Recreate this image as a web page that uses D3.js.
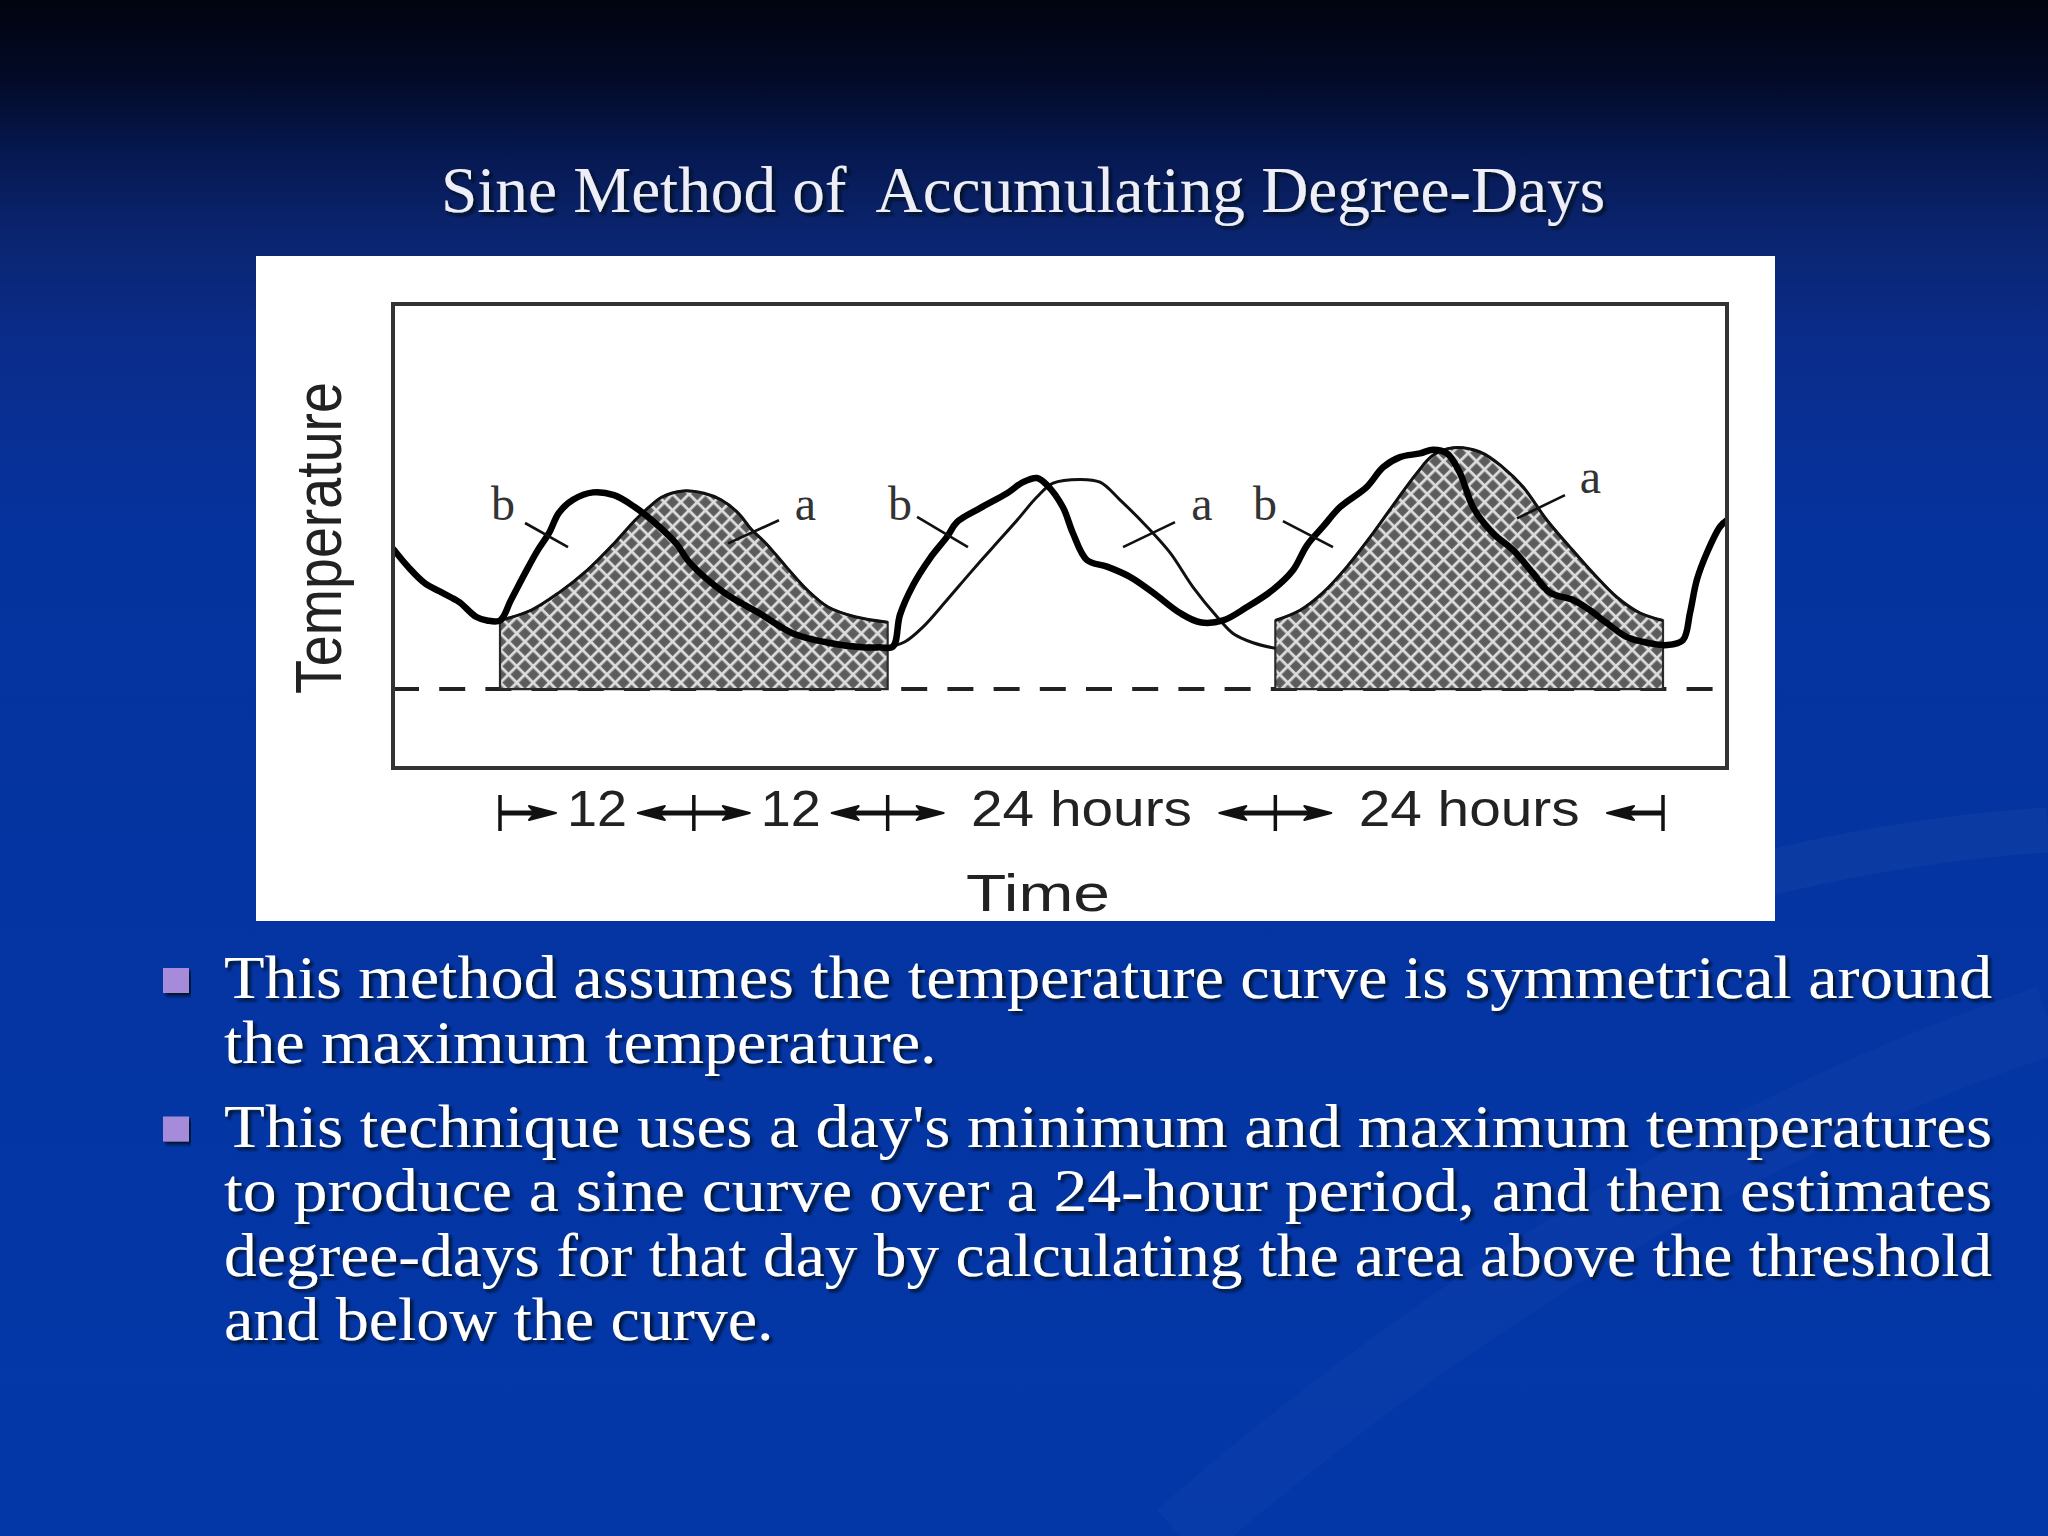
<!DOCTYPE html>
<html>
<head>
<meta charset="utf-8">
<script src="https://cdn.jsdelivr.net/npm/d3@7"></script>
<style>
  html, body { margin: 0; padding: 0; background: #0435a4; }
  svg { display: block; }
</style>
</head>
<body>
<svg id="chart" width="2048" height="1536"></svg>
<script>
// ---------------- DATA ----------------
const titleText = "Sine Method of  Accumulating Degree-Days";
const yAxisLabel = "Temperature";
const xAxisLabel = "Time";
const threshold = 50;                 // dashed developmental threshold (°F, arbitrary units)
const dayBounds = [0, 24, 48, 72];    // hours
const shadedDays = [0, 2];            // days whose area above threshold is hatched
const spanTicks = [0, 12, 24, 48, 72];
const spanLabels = ["12", "12", "24 hours", "24 hours"];

// actual (thick) temperature trace: [hour, temperature]
const actualTemps = [[-6.56,65.0],[-5.70,63.2],[-4.64,61.4],[-3.59,60.4],[-2.54,59.4],[-1.49,57.8],[-0.80,57.4],[0,57.4],[0.68,59.6],[1.55,62.5],[2.35,65.0],[3.03,66.8],[3.65,69.0],[4.52,70.4],[5.76,71.2],[7.06,70.9],[8.36,69.6],[9.60,67.9],[10.90,65.7],[11.76,63.6],[13.87,60.4],[16.03,58.2],[18.14,56.0],[20.31,55.0],[22.41,54.5],[23.46,54.5],[24.33,54.6],[24.76,58.0],[25.57,61.2],[26.62,64.1],[27.67,66.4],[28.29,68.0],[29.72,69.5],[31.39,71.1],[32.38,72.3],[33.24,72.75],[33.86,72.0],[34.85,69.6],[35.47,66.8],[36.34,63.9],[37.58,63.2],[39.00,62.1],[40.43,60.4],[42.10,58.2],[43.34,57.2],[44.76,57.4],[46.25,58.85],[47.85,60.7],[49.09,62.8],[49.96,65.5],[50.95,67.5],[52.00,69.6],[53.67,71.8],[54.67,73.9],[55.72,75.0],[56.96,75.4],[57.76,75.8],[58.63,75.4],[59.43,73.3],[60.24,69.6],[61.47,66.8],[62.71,65.0],[63.95,62.5],[65.00,60.4],[66.43,59.6],[67.48,58.5],[68.53,57.1],[69.77,55.6],[71.01,55.0],[72.25,54.75],[73.24,55.3],[73.67,58.2],[74.10,61.8],[74.72,64.7],[75.53,67.5],[75.96,68.2]];

// sine-approximation (thin) curves, one per day: [hour, temperature]
const sineDay1 = [[0,57.4],[1.92,58.5],[3.65,60.4],[5.39,62.8],[7.06,65.7],[8.36,68.2],[9.22,69.6],[10.03,70.7],[11.33,71.35],[12.63,71.1],[13.68,70.4],[14.73,69.0],[15.60,67.15],[16.47,65.7],[17.71,63.2],[19.01,60.7],[20.31,58.85],[21.98,57.8],[24,57.2]];
const sineDay2 = [[24,54.5],[25.07,55.1],[26.19,56.7],[27.67,59.6],[29.10,62.5],[30.52,65.3],[32.01,68.2],[33.24,70.7],[34.24,72.2],[35.91,72.6],[37.15,72.3],[38.38,70.4],[40.05,67.5],[41.48,64.7],[42.90,61.0],[44.39,57.8],[45.38,56.0],[46.62,55.0],[48,54.4]];
const sineDay3 = [[48,57.4],[49.53,58.5],[50.95,60.4],[52.44,63.2],[54.05,66.8],[55.53,70.4],[56.77,73.3],[57.76,75.2],[59.00,76.0],[60.67,75.55],[62.09,73.9],[63.33,71.8],[64.82,68.2],[66.24,65.3],[67.67,62.5],[69.15,59.9],[70.58,58.2],[72,57.4]];
const sineDays = [sineDay1, sineDay2, sineDay3];

// curve labels (b = actual trace, a = sine approximation): [hour, temperature at baseline]
const curveLabels = ["b", "a", "b", "a", "b", "a"];
const labelAnchors = [[0.19,68.2],[18.9,68.2],[24.76,68.2],[43.46,68.2],[47.36,68.2],[67.5,71.1]];
const leaderFrom = [[1.55,67.9],[17.27,68.2],[25.82,68.55],[41.79,68.0],[48.47,68.1],[65.93,70.9]];
const leaderTo   = [[4.21,65.3],[14.12,65.7],[28.97,65.3],[38.57,65.3],[51.57,65.3],[62.96,68.4]];

const bulletParagraphs = [
  ["This method assumes the temperature curve is symmetrical around",
   "the maximum temperature."],
  ["This technique uses a day's minimum and maximum temperatures",
   "to produce a sine curve over a 24-hour period, and then estimates",
   "degree-days for that day by calculating the area above the threshold",
   "and below the curve."]
];

// ---------------- LAYOUT ----------------
const W = 2048, H = 1536;
const box = {x0: 256, y0: 256, x1: 1775, y1: 921};
const frame = {x0: 393, y0: 304, x1: 1727, y1: 768};

const svg = d3.select("#chart");
const defs = svg.append("defs");

// background gradient
const bg = defs.append("linearGradient").attr("id", "bg").attr("x1", 0).attr("y1", 0).attr("x2", 0).attr("y2", 1);
[[0, "#01030f"], [0.05, "#020a26"], [0.1, "#061850"], [0.15, "#0a246e"], [0.22, "#0a2c8a"],
 [0.35, "#05339e"], [1, "#0337a8"]].forEach(s => bg.append("stop").attr("offset", s[0]).attr("stop-color", s[1]));

const sh = defs.append("filter").attr("id", "shadow").attr("x", "-5%").attr("y", "-30%").attr("width", "110%").attr("height", "160%");
sh.append("feDropShadow").attr("dx", 3).attr("dy", 3).attr("stdDeviation", 1.5)
  .attr("flood-color", "#000717").attr("flood-opacity", 0.85);

// hatch pattern (diamond lattice)
const P = 11.6;
const pat = defs.append("pattern").attr("id", "hatch").attr("patternUnits", "userSpaceOnUse")
  .attr("width", P).attr("height", P).attr("patternTransform", "rotate(45)");
pat.append("rect").attr("width", P).attr("height", P).attr("fill", "#6a6a6a");
pat.append("rect").attr("x", 3.5).attr("y", 3.5).attr("width", P - 4.5).attr("height", P - 4.5).attr("fill", "#5c5c5c");
pat.append("rect").attr("width", P).attr("height", 2.6).attr("fill", "#dedede");
pat.append("rect").attr("width", 2.6).attr("height", P).attr("fill", "#dedede");

defs.append("clipPath").attr("id", "frameClip").append("rect")
  .attr("x", frame.x0).attr("y", frame.y0).attr("width", frame.x1 - frame.x0).attr("height", frame.y1 - frame.y0);

// background
svg.append("rect").attr("width", W).attr("height", H).attr("fill", "url(#bg)");
// faint decorative swooshes
svg.append("path").attr("d", "M1180,1536 C1450,1300 1750,1120 2048,1020")
  .attr("fill", "none").attr("stroke", "#ffffff").attr("stroke-opacity", 0.025).attr("stroke-width", 70);
svg.append("path").attr("d", "M1700,890 C1850,850 1960,835 2048,830")
  .attr("fill", "none").attr("stroke", "#ffffff").attr("stroke-opacity", 0.03).attr("stroke-width", 45);

// title
svg.append("text").text(titleText)
  .attr("x", 1023).attr("y", 212).attr("text-anchor", "middle")
  .attr("font-family", "'Liberation Serif', 'Times New Roman', serif").attr("font-size", 66)
  .attr("fill", "#eeeef8").style("white-space", "pre")
  .attr("textLength", 1164).attr("lengthAdjust", "spacingAndGlyphs")
  .attr("filter", "url(#shadow)");

// white chart panel
svg.append("rect").attr("x", box.x0).attr("y", box.y0).attr("width", box.x1 - box.x0).attr("height", box.y1 - box.y0)
  .attr("fill", "#ffffff");

// scales
const x = d3.scaleLinear().domain([dayBounds[0], dayBounds[dayBounds.length - 1]]).range([500, 1663]);
const y = d3.scaleLinear().domain([41.5, 91.5]).range([frame.y1, frame.y0]);

const curve = d3.curveCatmullRom.alpha(0.5);
const line = d3.line().x(d => x(d[0])).y(d => y(d[1])).curve(curve);
const area = d3.area().x(d => x(d[0])).y0(y(threshold)).y1(d => y(d[1])).curve(curve);

const plot = svg.append("g").attr("clip-path", "url(#frameClip)");

// threshold dashed line
plot.append("line").attr("x1", frame.x0).attr("x2", frame.x1).attr("y1", y(threshold)).attr("y2", y(threshold))
  .attr("stroke", "#222").attr("stroke-width", 4).attr("stroke-dasharray", "26 20.2");

// hatched degree-day areas
plot.selectAll("path.shade").data(shadedDays.map(i => sineDays[i])).join("path")
  .attr("class", "shade").attr("d", area)
  .attr("fill", "url(#hatch)").attr("stroke", "#2a2a2a").attr("stroke-width", 2.2);

// thin sine curves
plot.selectAll("path.sine").data(sineDays).join("path")
  .attr("class", "sine").attr("d", line)
  .attr("fill", "none").attr("stroke", "#111").attr("stroke-width", 3).attr("stroke-linejoin", "round");

// thick actual trace
plot.append("path").datum(actualTemps).attr("d", line)
  .attr("fill", "none").attr("stroke", "#000").attr("stroke-width", 6.5)
  .attr("stroke-linejoin", "round").attr("stroke-linecap", "round");

// leader lines and labels
plot.selectAll("line.leader").data(leaderFrom).join("line").attr("class", "leader")
  .attr("x1", d => x(d[0])).attr("y1", d => y(d[1]))
  .attr("x2", (d, i) => x(leaderTo[i][0])).attr("y2", (d, i) => y(leaderTo[i][1]))
  .attr("stroke", "#111").attr("stroke-width", 2.6);

plot.selectAll("text.clabel").data(labelAnchors).join("text").attr("class", "clabel")
  .attr("x", d => x(d[0])).attr("y", d => y(d[1])).attr("text-anchor", "middle")
  .attr("font-family", "'Liberation Serif', 'DejaVu Serif', serif").attr("font-size", 48)
  .attr("fill", "#333").text((d, i) => curveLabels[i]);

// frame
svg.append("rect").attr("x", frame.x0).attr("y", frame.y0).attr("width", frame.x1 - frame.x0).attr("height", frame.y1 - frame.y0)
  .attr("fill", "none").attr("stroke", "#333").attr("stroke-width", 4);

// y-axis label
svg.append("text").text(yAxisLabel)
  .attr("transform", `translate(341,${(frame.y0 + frame.y1) / 2 + 2}) rotate(-90)`)
  .attr("text-anchor", "middle").attr("font-family", "'Liberation Sans', Arial, sans-serif")
  .attr("font-size", 64).attr("fill", "#222")
  .attr("textLength", 312).attr("lengthAdjust", "spacingAndGlyphs");

// time span annotation under the frame
const spanG = svg.append("g");
const arrowY = 813, arrowLen = 56;
spanG.selectAll("line.tick").data(spanTicks).join("line").attr("class", "tick")
  .attr("x1", d => x(d)).attr("x2", d => x(d)).attr("y1", 795).attr("y2", 831)
  .attr("stroke", "#111").attr("stroke-width", 3.5);

const arrows = [];
for (let i = 0; i < spanTicks.length - 1; i++) {
  arrows.push({from: x(spanTicks[i]), dir: 1});
  arrows.push({from: x(spanTicks[i + 1]), dir: -1});
}
spanG.selectAll("line.shaft").data(arrows).join("line").attr("class", "shaft")
  .attr("x1", d => d.from).attr("x2", d => d.from + d.dir * (arrowLen - 12))
  .attr("y1", arrowY).attr("y2", arrowY).attr("stroke", "#111").attr("stroke-width", 5);
spanG.selectAll("path.head").data(arrows).join("path").attr("class", "head")
  .attr("d", d => {
    const tip = d.from + d.dir * arrowLen, back = tip - d.dir * 27, mid = tip - d.dir * 21;
    return `M${tip},${arrowY} L${back},${arrowY - 7} L${mid},${arrowY} L${back},${arrowY + 7} Z`;
  })
  .attr("fill", "#111").attr("stroke", "#111").attr("stroke-width", 2).attr("stroke-linejoin", "round");

const spanLengths = {"12": 60, "24 hours": 221};
spanG.selectAll("text.span").data(spanLabels).join("text").attr("class", "span")
  .attr("x", (d, i) => x((spanTicks[i] + spanTicks[i + 1]) / 2)).attr("y", 826)
  .attr("text-anchor", "middle").attr("font-family", "'Liberation Sans', Arial, sans-serif")
  .attr("font-size", 50).attr("fill", "#222")
  .attr("textLength", d => spanLengths[d]).attr("lengthAdjust", "spacingAndGlyphs")
  .text(d => d);

svg.append("text").text(xAxisLabel)
  .attr("x", 1038).attr("y", 911).attr("text-anchor", "middle")
  .attr("font-family", "'Liberation Sans', Arial, sans-serif").attr("font-size", 52).attr("fill", "#222")
  .attr("textLength", 144).attr("lengthAdjust", "spacingAndGlyphs");

// bullets
const textX = 224, textRight = 1992, firstBase = 998, lineStep = 64.5, paraGap = 19.5;
let base = firstBase;
const bulletG = svg.append("g");
bulletParagraphs.forEach((para, pi) => {
  bulletG.append("rect").attr("x", 163).attr("y", base - 30).attr("width", 26).attr("height", 25)
    .attr("fill", "#a68bdb").attr("filter", "url(#shadow)");
  para.forEach((ln, li) => {
    const t = bulletG.append("text").text(ln)
      .attr("x", textX).attr("y", base)
      .attr("font-family", "'Liberation Serif', 'Times New Roman', serif").attr("font-size", 62)
      .attr("fill", "#ffffff").attr("filter", "url(#shadow)");
    const natural = t.node().getComputedTextLength();
    const last = li === para.length - 1;
    const target = last ? natural * 1.064 : (textRight - textX);
    t.attr("textLength", target).attr("lengthAdjust", "spacingAndGlyphs");
    base += lineStep;
  });
  base += paraGap;
});
</script>
</body>
</html>
